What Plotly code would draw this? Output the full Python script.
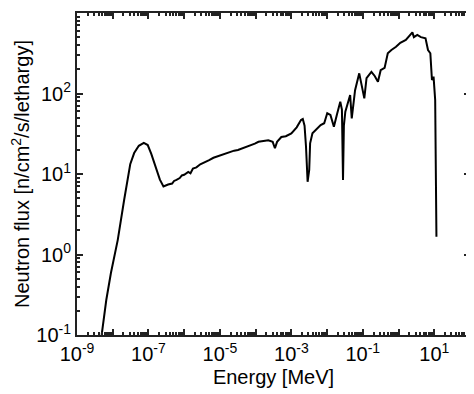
import plotly.graph_objects as go

# Energy [MeV] and neutron flux [n/cm2/s/lethargy]
energy = [4.9e-9, 6.6e-9, 8.9e-9, 1.38e-8, 2.09e-8, 2.95e-8, 3.09e-8, 3.98e-8, 5.37e-8, 7.41e-8,
          9.55e-8, 1.20e-7, 1.58e-7, 2.09e-7, 2.63e-7, 3.55e-7, 4.6e-7, 5.2e-7, 6.1e-7, 7.5e-7,
          8.6e-7, 1.0e-6, 1.3e-6, 1.5e-6, 1.76e-6, 2.2e-6, 2.82e-6, 3.8e-6, 5.0e-6, 6.6e-6,
          8.9e-6, 1.15e-5, 1.45e-5, 2.0e-5, 2.5e-5, 3.2e-5, 4.2e-5, 5.5e-5, 7.1e-5, 9.5e-5,
          1.2e-4, 1.6e-4, 2.26e-4, 3.0e-4, 3.47e-4, 3.98e-4, 5.25e-4, 7.0e-4, 1.0e-3, 1.41e-3,
          1.86e-3, 2.09e-3, 2.34e-3, 2.57e-3, 2.85e-3, 3.16e-3, 3.35e-3, 3.89e-3, 5.0e-3, 6.6e-3,
          8.3e-3, 1.01e-2, 1.24e-2, 1.55e-2, 1.91e-2, 2.34e-2, 2.6e-2, 2.79e-2, 2.95e-2, 3.24e-2,
          4.42e-2, 4.9e-2, 6.07e-2, 7.94e-2, 9.3e-2, 0.11, 0.127, 0.174, 0.215, 0.265,
          0.316, 0.407, 0.50, 0.631, 0.851, 1.12, 1.60, 2.0, 2.44, 2.69,
          3.35, 4.22, 5.69, 6.68, 7.76, 8.61, 9.55, 10.6, 11.0, 11.5]
flux = [0.10, 0.272, 0.589, 1.51, 4.79, 12.0, 13.2, 18.2, 22.4, 24.3,
        22.9, 17.8, 12.6, 8.51, 7.0, 7.41, 7.6, 8.2, 8.47, 8.9,
        9.6, 9.77, 10.6, 10.2, 11.7, 12.1, 13.2, 13.9, 14.9, 15.9,
        16.6, 17.6, 18.1, 18.7, 19.5, 19.9, 20.8, 21.6, 22.9, 23.8,
        25.1, 25.4, 26.3, 25.1, 20.9, 25.1, 28.8, 29.5, 32.0, 38.0,
        46.8, 48.2, 39.8, 21.8, 8.0, 11.2, 24.0, 32.1, 36.3, 40.6,
        42.7, 56.8, 54.1, 38.7, 56.2, 79.1, 63.1, 8.41, 39.8, 59.4,
        95.7, 49.0, 110, 178, 126, 87.1, 155, 186, 165, 140,
        195, 208, 316, 347, 380, 427, 462, 518, 575, 501,
        533, 501, 485, 347, 316, 147, 162, 83.2, 8.41, 1.66]

x_exponents = list(range(-9, 3))
y_exponents = list(range(-1, 4))
x_ticktext = [f"10<sup>{e}</sup>" if (e + 9) % 2 == 0 else "" for e in x_exponents]
y_ticktext = [f"10<sup>{e}</sup>" for e in y_exponents]
x_tickvals = [10.0 ** e for e in x_exponents]
y_tickvals = [10.0 ** e for e in y_exponents]

fig = go.Figure()
fig.add_trace(go.Scatter(x=energy, y=flux, mode="lines",
                         line=dict(color="black", width=2), showlegend=False))

font = dict(family="Liberation Sans, Arial, sans-serif", size=20, color="black")

axis_style = dict(type="log", tickmode="array", showline=True, linecolor="#222222", linewidth=2,
                  mirror="allticks", ticks="inside", ticklen=6, tickwidth=1.5, tickcolor="#222222",
                  showgrid=False, zeroline=False, tickfont=font,
                  minor=dict(ticks="inside", ticklen=3, tickwidth=1.5, tickcolor="#222222", dtick="D1"))

fig.update_xaxes(range=[-9, 2], tickvals=x_tickvals, ticktext=x_ticktext,
                 title=dict(text="Energy [MeV]", font=font, standoff=6), **axis_style)
fig.update_yaxes(range=[-1, 3], tickvals=y_tickvals, ticktext=y_ticktext,
                 title=dict(text="Neutron flux [n/cm<sup>2</sup>/s/lethargy]", font=font, standoff=12),
                 **axis_style)

# the page body keeps an 8px default margin; offsets chosen so the plot area sits at x 72-472, y 13-335
fig.update_layout(width=466, height=386, margin=dict(l=64, r=2, t=5, b=59),
                  paper_bgcolor="white", plot_bgcolor="white", font=font)

fig.write_html("out.html")
